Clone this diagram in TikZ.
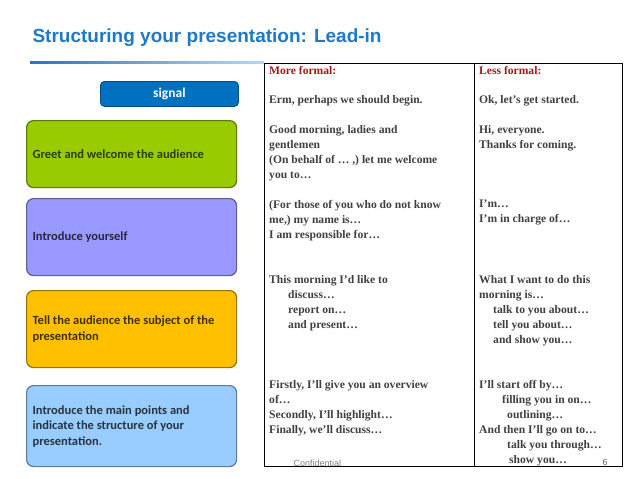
\documentclass[tikz,border=0pt]{standalone}
\usepackage{fontspec}
\setmainfont{Liberation Serif}
\newfontfamily\boxfont{Carlito}
\newfontfamily\titlefont{Liberation Sans}
\definecolor{titleblue}{HTML}{1F78C8}
\definecolor{sigblue}{HTML}{0070C0}
\definecolor{greenf}{HTML}{99CC00}
\definecolor{lavf}{HTML}{9999FF}
\definecolor{orangef}{HTML}{FFC000}
\definecolor{lbluef}{HTML}{99CCFF}
\definecolor{tabtext}{HTML}{404040}
\definecolor{redhead}{HTML}{A01818}
\tikzset{
  stagebox/.style={draw=#1!60!black, line width=1.2pt, rounded corners=7pt, fill=#1, text width=198pt, align=flush left, inner sep=6pt, anchor=north west, font=\boxfont\bfseries\fontsize{12.5}{15.5}\selectfont},
  tabtxt/.style={anchor=north west, inner sep=0pt, align=left, text=tabtext, font=\bfseries\fontsize{11.6}{15}\selectfont},
}
\begin{document}
\begin{tikzpicture}[x=1pt,y=-1pt]
\useasboundingbox (0,0) rectangle (638,479);
\node[anchor=west, text=titleblue, font=\titlefont\bfseries\fontsize{19}{22}\selectfont] (title) at (29,38) {Structuring your presentation: Lead-in};
\shade[left color=titleblue, right color=titleblue!30] (30,61.5) rectangle (264,63);
% boxes
\node[draw=sigblue!70!black, line width=0.8pt, rounded corners=4pt, fill=sigblue, minimum width=138pt, minimum height=25pt, anchor=north west, text=white, font=\boxfont\bfseries\fontsize{13.5}{15}\selectfont] (signal) at (100,81) {signal};
\node[stagebox=greenf, minimum height=67pt, text=black!70!greenf] (greet) at (26,120) {Greet and welcome the audience};
\node[stagebox=lavf, minimum height=77pt, text=black!75!lavf] (intro) at (26,198) {Introduce yourself};
\node[stagebox=orangef, minimum height=77pt, text=black!75!orangef] (tell) at (26,290) {Tell the audience the subject of the presentation};
\node[stagebox=lbluef, minimum height=81pt, text=black!75!lbluef] (main) at (26,385) {Introduce the main points and indicate the structure of your presentation.};
% table
\draw[line width=1pt] (264,63) rectangle (622,466);
\draw[line width=1pt] (474,63) -- (474,466);
\node[tabtxt, text=redhead] (h1) at (269,66) {More formal:};
\node[tabtxt, text=redhead] (h2) at (479,66) {Less formal:};
\node[tabtxt] (a1) at (269,95) {Erm, perhaps we should begin.};
\node[tabtxt] (b1) at (479,95) {Ok, let’s get started.};
\node[tabtxt] (a2) at (269,125) {Good morning, ladies and\\gentlemen\\(On behalf of … ,) let me welcome\\you to…};
\node[tabtxt] (b2) at (479,125) {Hi, everyone.\\Thanks for coming.};
\node[tabtxt] (a3) at (269,200) {(For those of you who do not know\\me,) my name is…\\I am responsible for…};
\node[tabtxt] (b3) at (479,200) {I’m…\\I’m in charge of…};
\node[tabtxt] (a4) at (269,275) {This morning I’d like to\\\hspace*{19pt}discuss…\\\hspace*{19pt}report on…\\\hspace*{19pt}and present…};
\node[tabtxt] (b4) at (479,275) {What I want to do this\\morning is…\\\hspace*{14pt}talk to you about…\\\hspace*{14pt}tell you about…\\\hspace*{14pt}and show you…};
\node[tabtxt] (a5) at (269,380) {Firstly, I’ll give you an overview\\of…\\Secondly, I’ll highlight…\\Finally, we’ll discuss…};
\node[tabtxt] (b5) at (479,380) {I’ll start off by…\\\hspace*{23pt}filling you in on…\\\hspace*{28pt}outlining…\\And then I’ll go on to…\\\hspace*{28pt}talk you through…\\\hspace*{30pt}show you…};
\node[anchor=west, text=gray, font=\titlefont\fontsize{9}{10}\selectfont] (conf) at (290,463) {Confidential};
\node[anchor=west, text=gray!80!black, font=\titlefont\fontsize{9}{10}\selectfont] (pg) at (599,462) {6};
\end{tikzpicture}
\end{document}
